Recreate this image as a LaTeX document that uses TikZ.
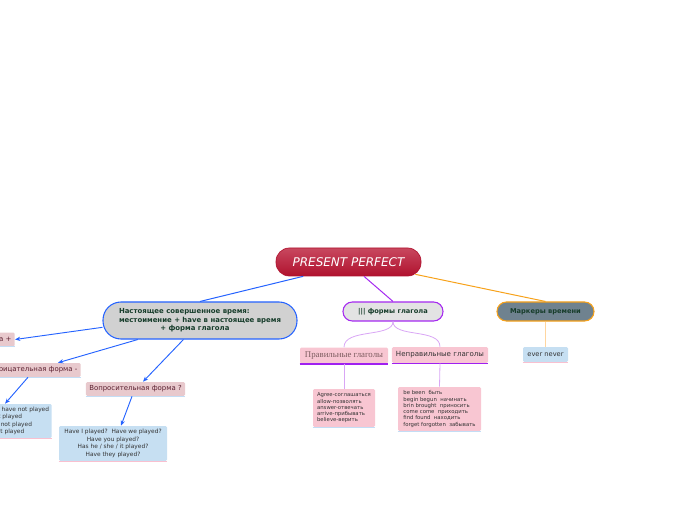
\documentclass[tikz,border=0pt]{standalone}
\usepackage{fontspec}
\setmainfont{DejaVu Sans}
\newfontfamily\serifrm{Liberation Serif}
\usetikzlibrary{arrows.meta}

\definecolor{rootlight}{HTML}{C8485F}
\definecolor{rootdark}{HTML}{B0112E}
\definecolor{blueline}{HTML}{2563FF}
\definecolor{grayfill}{HTML}{D1D1D1}
\definecolor{topictext}{HTML}{173D2B}
\definecolor{purpleline}{HTML}{A52AF0}
\definecolor{lightpurple}{HTML}{D9A6F5}
\definecolor{orangeline}{HTML}{F7A21B}
\definecolor{lightorange}{HTML}{FFD6A0}
\definecolor{formgray}{HTML}{E3E3E3}
\definecolor{markergray}{HTML}{6F828F}
\definecolor{formpink}{HTML}{E8C9CD}
\definecolor{formtext}{HTML}{5C2131}
\definecolor{verbpink}{HTML}{F8C6D2}
\definecolor{noteblue}{HTML}{C6DFF2}
\definecolor{notetext}{HTML}{333333}
\definecolor{ulbluec}{HTML}{C3DDF5}
\definecolor{ulpinkc}{HTML}{F9C0D0}
\definecolor{ulpurplec}{HTML}{A020F0}
\definecolor{pravtext}{HTML}{7B5B5E}

\tikzset{
  rootbox/.style={rectangle, rounded corners=10pt, top color=rootlight, bottom color=rootdark, draw=rootdark, line width=0.5pt, text=white, font=\itshape\fontsize{9}{11}\selectfont, minimum width=108.75pt, minimum height=21pt, inner sep=0pt},
  topicbox/.style={rectangle, rounded corners=7pt, line width=0.8pt, text=topictext, font=\bfseries\fontsize{5}{6.4}\selectfont, align=center, inner sep=0pt, minimum height=14.25pt},
  formbox/.style={rectangle, rounded corners=1pt, fill=formpink, text=formtext, font=\fontsize{5.2}{6}\selectfont, inner xsep=2.5pt, inner ysep=0pt, minimum height=10.5pt},
  verbbox/.style={rectangle, rounded corners=1pt, fill=verbpink, inner xsep=3pt, inner ysep=0pt, minimum height=12pt},
  notebox/.style={rectangle, rounded corners=1pt, text=notetext, inner sep=2pt},
  ulblue/.style={append after command={(\tikzlastnode.south west) edge[draw=ulbluec, line width=1pt] (\tikzlastnode.south east)}},
  ulpink/.style={append after command={(\tikzlastnode.south west) edge[draw=ulpinkc, line width=1pt] (\tikzlastnode.south east)}},
  ulpurple/.style={append after command={(\tikzlastnode.south west) edge[draw=ulpurplec, line width=1.1pt] (\tikzlastnode.south east)}},
  arrowline/.style={draw=blueline, line width=0.7pt, -{Stealth[length=4pt,width=3.2pt]}},
}

\begin{document}
\begin{tikzpicture}[x=0.75pt,y=-0.75pt]
  \useasboundingbox (0,0) rectangle (696,520);
  \clip (0,0) rectangle (696,520);

  % ROOT
  \node [rootbox] (root) at (348.5,262) {PRESENT PERFECT};

  % LEFT
  \node [topicbox, draw=blueline, fill=grayfill, minimum width=145.5pt, minimum height=27.75pt, rounded corners=13.5pt, align=left, font=\bfseries\fontsize{5.2}{6.4}\selectfont] (tense) at (200,320.5) {Настоящее совершенное время:\\местоимение + have в настоящее время\\\hspace*{31pt}+ форма глагола};
  \draw [blueline, line width=0.75pt] ([xshift=-34pt]root.south) -- (tense.north);

  \node [formbox, ulblue, anchor=east] (affirm) at (15,339.5) {Утвердительная форма +};
  \node [formbox, ulblue, anchor=east] (negat) at (81,370) {Отрицательная форма -};
  \node [formbox, ulblue, minimum width=74.25pt] (quest) at (135.5,389) {Вопросительная форма ?};
  \draw [arrowline] (tense.184) -- (affirm.east);
  \draw [arrowline] (tense.197) -- ([xshift=-17.25pt]negat.north east);
  \draw [arrowline] (tense.229) -- ([xshift=5.6pt]quest.north);

  \node [notebox, fill=noteblue, ulpink, align=center, anchor=east, minimum height=25.5pt, font=\fontsize{4.4}{5.6}\selectfont] (negex) at (52,421) {I have not played\ \ We have not played\\You have not played\\He / she / it has not played\\They have not played};
  \node [notebox, fill=noteblue, ulpink, align=center, minimum width=81pt, minimum height=26.25pt, font=\fontsize{4.4}{5.6}\selectfont] (questex) at (113,443.5) {Have I played?\ \ Have we played?\\Have you played?\\Has he / she / it played?\\Have they played?};
  \draw [arrowline] ([xshift=-39.75pt]negat.south east) -- ([xshift=-35.25pt]negex.north east);
  \draw [arrowline] ([xshift=-2.6pt]quest.south) -- ([xshift=6pt]questex.north);

  % MIDDLE
  \node [topicbox, draw=purpleline, fill=formgray, minimum width=75pt] (verbforms) at (393,311.5) {||| формы глагола};
  \draw [purpleline, line width=0.75pt] ([xshift=11.6pt]root.south) -- (verbforms.north);

  \node [verbbox, ulpurple, minimum width=66pt, text=pravtext, font=\serifrm\fontsize{6.6}{7.5}\selectfont] (regular) at (344,355.5) {Правильные глаголы};
  \node [verbbox, ulpurple, minimum width=70.5pt, text=notetext, font=\fontsize{5.3}{6}\selectfont] (irregular) at (440,355) {Неправильные глаголы};
  \draw [lightpurple, line width=0.6pt] (verbforms.south) .. controls (393,338) and (344,328) .. (regular.north);
  \draw [lightpurple, line width=0.6pt] (verbforms.south) .. controls (393,338) and (440,328) .. (irregular.north);

  \node [notebox, fill=verbpink, ulblue, align=left, minimum width=46.5pt, minimum height=28.5pt, font=\fontsize{4}{4.7}\selectfont] (regex) at (344,408) {Agree-соглашаться\\allow-позволять\\answer-отвечать\\arrive-прибывать\\believe-верить};
  \node [notebox, fill=verbpink, ulblue, align=left, minimum width=62.25pt, minimum height=33pt, font=\fontsize{4}{4.7}\selectfont] (irregex) at (439.5,409) {be been\ \ быть\\begin begun\ \ начинать\\brin brought\ \ приносить\\come come\ \ приходить\\find found\ \ находить\\forget forgotten\ \ забывать};
  \draw [lightpurple, line width=0.6pt] (regular.south) -- (regex.north);
  \draw [lightpurple, line width=0.6pt] (irregular.south) -- (irregex.north);

  % RIGHT
  \node [topicbox, draw=orangeline, fill=markergray, minimum width=72.75pt] (markers) at (545.5,311.5) {Маркеры времени};
  \draw [orangeline, line width=0.75pt] ([xshift=-4.5pt,yshift=1.5pt]root.south east) -- (markers.north);

  \node [notebox, fill=noteblue, ulpink, minimum width=33.75pt, minimum height=11.25pt, font=\fontsize{5}{6}\selectfont] (evernever) at (545.5,354.5) {ever never};
  \draw [lightorange, line width=0.6pt] (markers.south) -- (evernever.north);

\end{tikzpicture}
\end{document}
